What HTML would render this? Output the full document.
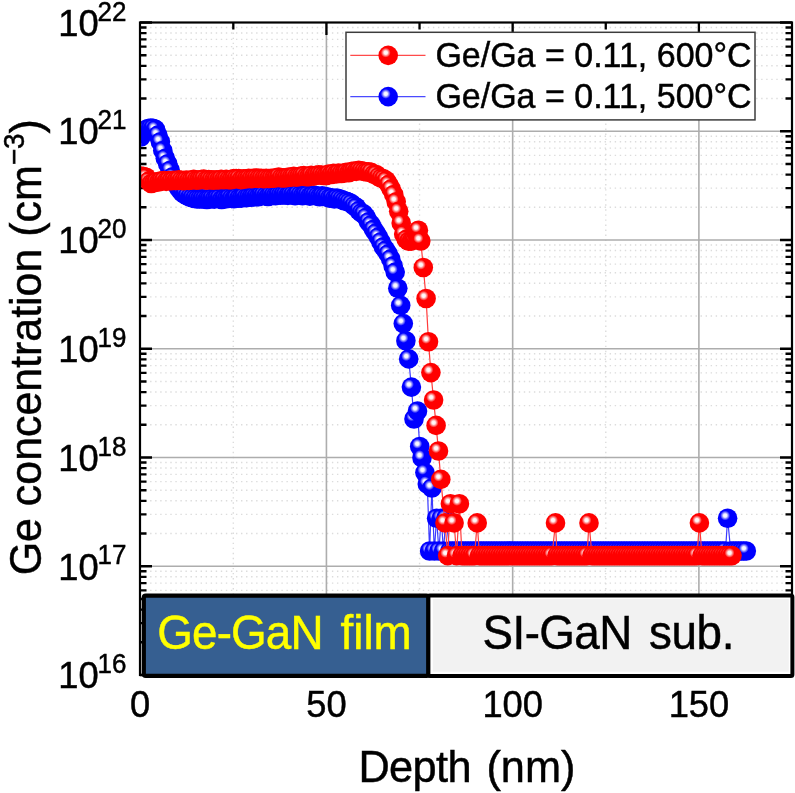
<!DOCTYPE html>
<html lang="en"><head><meta charset="utf-8"><title>Ge concentration depth profile</title>
<style>html,body{margin:0;padding:0;background:#fff}svg{display:block}text{stroke:#000;stroke-width:.45px;paint-order:stroke fill}text.y{stroke:#ff0}</style></head>
<body>
<svg width="795" height="793" viewBox="0 0 795 793" font-family="'Liberation Sans', sans-serif">
<defs>
<radialGradient id="gr" cx="0.375" cy="0.36" r="0.25" fx="0.375" fy="0.36">
<stop offset="0" stop-color="#ffffff"/><stop offset="0.35" stop-color="#fff0f0"/><stop offset="1" stop-color="#ff0000"/>
</radialGradient>
<radialGradient id="gb" cx="0.375" cy="0.36" r="0.25" fx="0.375" fy="0.36">
<stop offset="0" stop-color="#ffffff"/><stop offset="0.35" stop-color="#f0f0ff"/><stop offset="1" stop-color="#0000ff"/>
</radialGradient>
<circle id="r" r="9.8" fill="url(#gr)"/>
<circle id="b" r="9.8" fill="url(#gb)"/>
<clipPath id="cp"><rect x="141.1" y="22.5" width="651" height="652.5"/></clipPath>
</defs>
<rect width="795" height="793" fill="#ffffff"/>
<path d="M140.0 642.26H792.0M140.0 623.11H792.0M140.0 609.53H792.0M140.0 598.99H792.0M140.0 590.38H792.0M140.0 583.10H792.0M140.0 576.79H792.0M140.0 571.23H792.0M140.0 533.51H792.0M140.0 514.36H792.0M140.0 500.78H792.0M140.0 490.24H792.0M140.0 481.63H792.0M140.0 474.35H792.0M140.0 468.04H792.0M140.0 462.48H792.0M140.0 424.76H792.0M140.0 405.61H792.0M140.0 392.03H792.0M140.0 381.49H792.0M140.0 372.88H792.0M140.0 365.60H792.0M140.0 359.29H792.0M140.0 353.73H792.0M140.0 316.01H792.0M140.0 296.86H792.0M140.0 283.28H792.0M140.0 272.74H792.0M140.0 264.13H792.0M140.0 256.85H792.0M140.0 250.54H792.0M140.0 244.98H792.0M140.0 207.26H792.0M140.0 188.11H792.0M140.0 174.53H792.0M140.0 163.99H792.0M140.0 155.38H792.0M140.0 148.10H792.0M140.0 141.79H792.0M140.0 136.23H792.0M140.0 98.51H792.0M140.0 79.36H792.0M140.0 65.78H792.0M140.0 55.24H792.0M140.0 46.63H792.0M140.0 39.35H792.0M140.0 33.04H792.0M140.0 27.48H792.0M233.31 22.5V675.0M419.55 22.5V675.0M605.77 22.5V675.0" stroke="#dcdcdc" stroke-width="1.4" stroke-dasharray="1.4 3.65" fill="none"/>
<path d="M140.0 566.25H792.0M140.0 457.50H792.0M140.0 348.75H792.0M140.0 240.00H792.0M140.0 131.25H792.0M326.43 22.5V675.0M512.66 22.5V675.0M698.89 22.5V675.0" stroke="#adadad" stroke-width="1.6" fill="none"/>
<path d="M140.0 675.00h12M792.0 675.00h-12M140.0 642.26h6.5M792.0 642.26h-6.5M140.0 623.11h6.5M792.0 623.11h-6.5M140.0 609.53h6.5M792.0 609.53h-6.5M140.0 598.99h6.5M792.0 598.99h-6.5M140.0 590.38h6.5M792.0 590.38h-6.5M140.0 583.10h6.5M792.0 583.10h-6.5M140.0 576.79h6.5M792.0 576.79h-6.5M140.0 571.23h6.5M792.0 571.23h-6.5M140.0 566.25h12M792.0 566.25h-12M140.0 533.51h6.5M792.0 533.51h-6.5M140.0 514.36h6.5M792.0 514.36h-6.5M140.0 500.78h6.5M792.0 500.78h-6.5M140.0 490.24h6.5M792.0 490.24h-6.5M140.0 481.63h6.5M792.0 481.63h-6.5M140.0 474.35h6.5M792.0 474.35h-6.5M140.0 468.04h6.5M792.0 468.04h-6.5M140.0 462.48h6.5M792.0 462.48h-6.5M140.0 457.50h12M792.0 457.50h-12M140.0 424.76h6.5M792.0 424.76h-6.5M140.0 405.61h6.5M792.0 405.61h-6.5M140.0 392.03h6.5M792.0 392.03h-6.5M140.0 381.49h6.5M792.0 381.49h-6.5M140.0 372.88h6.5M792.0 372.88h-6.5M140.0 365.60h6.5M792.0 365.60h-6.5M140.0 359.29h6.5M792.0 359.29h-6.5M140.0 353.73h6.5M792.0 353.73h-6.5M140.0 348.75h12M792.0 348.75h-12M140.0 316.01h6.5M792.0 316.01h-6.5M140.0 296.86h6.5M792.0 296.86h-6.5M140.0 283.28h6.5M792.0 283.28h-6.5M140.0 272.74h6.5M792.0 272.74h-6.5M140.0 264.13h6.5M792.0 264.13h-6.5M140.0 256.85h6.5M792.0 256.85h-6.5M140.0 250.54h6.5M792.0 250.54h-6.5M140.0 244.98h6.5M792.0 244.98h-6.5M140.0 240.00h12M792.0 240.00h-12M140.0 207.26h6.5M792.0 207.26h-6.5M140.0 188.11h6.5M792.0 188.11h-6.5M140.0 174.53h6.5M792.0 174.53h-6.5M140.0 163.99h6.5M792.0 163.99h-6.5M140.0 155.38h6.5M792.0 155.38h-6.5M140.0 148.10h6.5M792.0 148.10h-6.5M140.0 141.79h6.5M792.0 141.79h-6.5M140.0 136.23h6.5M792.0 136.23h-6.5M140.0 131.25h12M792.0 131.25h-12M140.0 98.51h6.5M792.0 98.51h-6.5M140.0 79.36h6.5M792.0 79.36h-6.5M140.0 65.78h6.5M792.0 65.78h-6.5M140.0 55.24h6.5M792.0 55.24h-6.5M140.0 46.63h6.5M792.0 46.63h-6.5M140.0 39.35h6.5M792.0 39.35h-6.5M140.0 33.04h6.5M792.0 33.04h-6.5M140.0 27.48h6.5M792.0 27.48h-6.5M140.0 22.50h12M792.0 22.50h-12M326.43 22.5v12.5M512.66 22.5v12.5M698.89 22.5v12.5M233.31 22.5v7M419.55 22.5v7M605.77 22.5v7" stroke="#000" stroke-width="2.3" fill="none"/>
<g clip-path="url(#cp)">
<path d="M140.8 137.0L143.2 132.9L145.7 129.9L148.1 128.5L150.6 128.0L153.0 128.3L155.5 129.4L157.9 135.1L160.4 141.8L162.8 150.6L165.3 158.3L167.7 163.7L170.2 170.3L172.6 176.8L175.1 181.9L177.5 186.3L180.0 189.9L182.4 192.7L184.9 194.5L187.3 195.9L189.8 197.1L192.2 197.8L194.7 198.5L197.1 198.9L199.6 198.9L202.0 198.9L204.5 199.0L206.9 199.5L209.4 198.7L211.8 198.6L214.3 199.1L216.7 198.2L219.2 198.3L221.6 199.5L224.1 198.6L226.5 198.7L229.0 197.7L231.4 198.4L233.9 198.7L236.3 197.5L238.8 198.3L241.2 198.1L243.7 196.8L246.1 197.6L248.6 197.1L251.0 197.2L253.5 196.4L255.9 196.8L258.4 196.7L260.8 195.2L263.3 195.2L265.7 196.1L268.2 196.5L270.6 195.0L273.1 195.4L275.5 195.6L278.0 195.0L280.4 195.1L282.9 194.9L285.3 195.0L287.8 195.4L290.2 194.8L292.7 194.9L295.1 195.6L297.6 194.2L300.0 195.1L302.5 195.6L304.9 195.0L307.4 195.0L309.8 196.2L312.3 195.3L314.7 195.4L317.2 196.1L319.6 196.8L322.1 195.9L324.5 196.5L327.0 196.8L329.4 198.1L331.9 197.8L334.3 198.9L336.8 198.0L339.2 198.7L341.7 199.6L344.1 200.8L346.6 201.4L349.0 202.4L351.5 203.6L353.9 205.7L356.4 207.2L358.8 210.6L361.3 212.9L363.7 213.9L366.2 217.2L368.6 221.7L371.1 224.8L373.5 229.3L376.0 232.9L378.4 236.9L380.9 241.7L383.3 246.8L385.8 250.1L388.2 253.9L390.7 258.9L393.1 265.8L395.2 272.1L397.8 288.2L400.7 305.4L403.3 323.6L405.9 340.7L408.7 358.9L411.4 387.1L414.0 419.0L417.5 411.0L419.7 446.5L422.0 457.8L424.9 472.6L427.3 484.0L429.6 551.0L431.9 488.0L434.3 551.0L436.6 518.3L438.9 551.0L441.2 518.3L443.5 551.0L445.8 518.3L449.9 551.0L452.5 551.0L455.1 551.0L457.7 551.0L460.3 551.0L462.9 551.0L465.5 551.0L468.1 551.0L470.7 551.0L473.3 551.0L475.9 551.0L478.5 551.0L481.1 551.0L483.7 551.0L486.3 551.0L488.9 551.0L491.5 551.0L494.1 551.0L496.7 551.0L499.3 551.0L501.9 551.0L504.5 551.0L507.1 551.0L509.7 551.0L512.3 551.0L514.9 551.0L517.5 551.0L520.1 551.0L522.7 551.0L525.3 551.0L527.9 551.0L530.5 551.0L533.1 551.0L535.7 551.0L538.3 551.0L540.9 551.0L543.5 551.0L546.1 551.0L548.7 551.0L551.3 551.0L553.9 551.0L556.5 551.0L559.1 551.0L561.7 551.0L564.3 551.0L566.9 551.0L569.5 551.0L572.1 551.0L574.7 551.0L577.3 551.0L579.9 551.0L582.5 551.0L585.1 551.0L587.7 551.0L590.3 551.0L592.9 551.0L595.5 551.0L598.1 551.0L600.7 551.0L603.3 551.0L605.9 551.0L608.5 551.0L611.1 551.0L613.7 551.0L616.3 551.0L618.9 551.0L621.5 551.0L624.1 551.0L626.7 551.0L629.3 551.0L631.9 551.0L634.5 551.0L637.1 551.0L639.7 551.0L642.3 551.0L644.9 551.0L647.5 551.0L650.1 551.0L652.7 551.0L655.3 551.0L657.9 551.0L660.5 551.0L663.1 551.0L665.7 551.0L668.3 551.0L670.9 551.0L673.5 551.0L676.1 551.0L678.7 551.0L681.3 551.0L683.9 551.0L686.5 551.0L689.1 551.0L691.7 551.0L694.3 551.0L696.9 551.0L699.5 551.0L702.1 551.0L704.7 551.0L707.3 551.0L709.9 551.0L712.5 551.0L715.1 551.0L717.7 551.0L720.3 551.0L722.9 551.0L725.5 551.0L727.6 518.3L730.7 551.0L733.3 551.0L735.9 551.0L738.5 551.0L741.1 551.0L743.7 551.0L746.3 551.0" stroke="#3a3aff" stroke-width="1.2" fill="none" stroke-linejoin="round"/>
<g><use href="#b" x="140.8" y="137.0"/><use href="#b" x="143.2" y="132.9"/><use href="#b" x="145.7" y="129.9"/><use href="#b" x="148.1" y="128.5"/><use href="#b" x="150.6" y="128.0"/><use href="#b" x="153.0" y="128.3"/><use href="#b" x="155.5" y="129.4"/><use href="#b" x="157.9" y="135.1"/><use href="#b" x="160.4" y="141.8"/><use href="#b" x="162.8" y="150.6"/><use href="#b" x="165.3" y="158.3"/><use href="#b" x="167.7" y="163.7"/><use href="#b" x="170.2" y="170.3"/><use href="#b" x="172.6" y="176.8"/><use href="#b" x="175.1" y="181.9"/><use href="#b" x="177.5" y="186.3"/><use href="#b" x="180.0" y="189.9"/><use href="#b" x="182.4" y="192.7"/><use href="#b" x="184.9" y="194.5"/><use href="#b" x="187.3" y="195.9"/><use href="#b" x="189.8" y="197.1"/><use href="#b" x="192.2" y="197.8"/><use href="#b" x="194.7" y="198.5"/><use href="#b" x="197.1" y="198.9"/><use href="#b" x="199.6" y="198.9"/><use href="#b" x="202.0" y="198.9"/><use href="#b" x="204.5" y="199.0"/><use href="#b" x="206.9" y="199.5"/><use href="#b" x="209.4" y="198.7"/><use href="#b" x="211.8" y="198.6"/><use href="#b" x="214.3" y="199.1"/><use href="#b" x="216.7" y="198.2"/><use href="#b" x="219.2" y="198.3"/><use href="#b" x="221.6" y="199.5"/><use href="#b" x="224.1" y="198.6"/><use href="#b" x="226.5" y="198.7"/><use href="#b" x="229.0" y="197.7"/><use href="#b" x="231.4" y="198.4"/><use href="#b" x="233.9" y="198.7"/><use href="#b" x="236.3" y="197.5"/><use href="#b" x="238.8" y="198.3"/><use href="#b" x="241.2" y="198.1"/><use href="#b" x="243.7" y="196.8"/><use href="#b" x="246.1" y="197.6"/><use href="#b" x="248.6" y="197.1"/><use href="#b" x="251.0" y="197.2"/><use href="#b" x="253.5" y="196.4"/><use href="#b" x="255.9" y="196.8"/><use href="#b" x="258.4" y="196.7"/><use href="#b" x="260.8" y="195.2"/><use href="#b" x="263.3" y="195.2"/><use href="#b" x="265.7" y="196.1"/><use href="#b" x="268.2" y="196.5"/><use href="#b" x="270.6" y="195.0"/><use href="#b" x="273.1" y="195.4"/><use href="#b" x="275.5" y="195.6"/><use href="#b" x="278.0" y="195.0"/><use href="#b" x="280.4" y="195.1"/><use href="#b" x="282.9" y="194.9"/><use href="#b" x="285.3" y="195.0"/><use href="#b" x="287.8" y="195.4"/><use href="#b" x="290.2" y="194.8"/><use href="#b" x="292.7" y="194.9"/><use href="#b" x="295.1" y="195.6"/><use href="#b" x="297.6" y="194.2"/><use href="#b" x="300.0" y="195.1"/><use href="#b" x="302.5" y="195.6"/><use href="#b" x="304.9" y="195.0"/><use href="#b" x="307.4" y="195.0"/><use href="#b" x="309.8" y="196.2"/><use href="#b" x="312.3" y="195.3"/><use href="#b" x="314.7" y="195.4"/><use href="#b" x="317.2" y="196.1"/><use href="#b" x="319.6" y="196.8"/><use href="#b" x="322.1" y="195.9"/><use href="#b" x="324.5" y="196.5"/><use href="#b" x="327.0" y="196.8"/><use href="#b" x="329.4" y="198.1"/><use href="#b" x="331.9" y="197.8"/><use href="#b" x="334.3" y="198.9"/><use href="#b" x="336.8" y="198.0"/><use href="#b" x="339.2" y="198.7"/><use href="#b" x="341.7" y="199.6"/><use href="#b" x="344.1" y="200.8"/><use href="#b" x="346.6" y="201.4"/><use href="#b" x="349.0" y="202.4"/><use href="#b" x="351.5" y="203.6"/><use href="#b" x="353.9" y="205.7"/><use href="#b" x="356.4" y="207.2"/><use href="#b" x="358.8" y="210.6"/><use href="#b" x="361.3" y="212.9"/><use href="#b" x="363.7" y="213.9"/><use href="#b" x="366.2" y="217.2"/><use href="#b" x="368.6" y="221.7"/><use href="#b" x="371.1" y="224.8"/><use href="#b" x="373.5" y="229.3"/><use href="#b" x="376.0" y="232.9"/><use href="#b" x="378.4" y="236.9"/><use href="#b" x="380.9" y="241.7"/><use href="#b" x="383.3" y="246.8"/><use href="#b" x="385.8" y="250.1"/><use href="#b" x="388.2" y="253.9"/><use href="#b" x="390.7" y="258.9"/><use href="#b" x="393.1" y="265.8"/><use href="#b" x="395.2" y="272.1"/><use href="#b" x="397.8" y="288.2"/><use href="#b" x="400.7" y="305.4"/><use href="#b" x="403.3" y="323.6"/><use href="#b" x="405.9" y="340.7"/><use href="#b" x="408.7" y="358.9"/><use href="#b" x="411.4" y="387.1"/><use href="#b" x="414.0" y="419.0"/><use href="#b" x="417.5" y="411.0"/><use href="#b" x="419.7" y="446.5"/><use href="#b" x="422.0" y="457.8"/><use href="#b" x="424.9" y="472.6"/><use href="#b" x="427.3" y="484.0"/><use href="#b" x="429.6" y="551.0"/><use href="#b" x="431.9" y="488.0"/><use href="#b" x="434.3" y="551.0"/><use href="#b" x="436.6" y="518.3"/><use href="#b" x="438.9" y="551.0"/><use href="#b" x="441.2" y="518.3"/><use href="#b" x="443.5" y="551.0"/><use href="#b" x="445.8" y="518.3"/><use href="#b" x="449.9" y="551.0"/><use href="#b" x="452.5" y="551.0"/><use href="#b" x="455.1" y="551.0"/><use href="#b" x="457.7" y="551.0"/><use href="#b" x="460.3" y="551.0"/><use href="#b" x="462.9" y="551.0"/><use href="#b" x="465.5" y="551.0"/><use href="#b" x="468.1" y="551.0"/><use href="#b" x="470.7" y="551.0"/><use href="#b" x="473.3" y="551.0"/><use href="#b" x="475.9" y="551.0"/><use href="#b" x="478.5" y="551.0"/><use href="#b" x="481.1" y="551.0"/><use href="#b" x="483.7" y="551.0"/><use href="#b" x="486.3" y="551.0"/><use href="#b" x="488.9" y="551.0"/><use href="#b" x="491.5" y="551.0"/><use href="#b" x="494.1" y="551.0"/><use href="#b" x="496.7" y="551.0"/><use href="#b" x="499.3" y="551.0"/><use href="#b" x="501.9" y="551.0"/><use href="#b" x="504.5" y="551.0"/><use href="#b" x="507.1" y="551.0"/><use href="#b" x="509.7" y="551.0"/><use href="#b" x="512.3" y="551.0"/><use href="#b" x="514.9" y="551.0"/><use href="#b" x="517.5" y="551.0"/><use href="#b" x="520.1" y="551.0"/><use href="#b" x="522.7" y="551.0"/><use href="#b" x="525.3" y="551.0"/><use href="#b" x="527.9" y="551.0"/><use href="#b" x="530.5" y="551.0"/><use href="#b" x="533.1" y="551.0"/><use href="#b" x="535.7" y="551.0"/><use href="#b" x="538.3" y="551.0"/><use href="#b" x="540.9" y="551.0"/><use href="#b" x="543.5" y="551.0"/><use href="#b" x="546.1" y="551.0"/><use href="#b" x="548.7" y="551.0"/><use href="#b" x="551.3" y="551.0"/><use href="#b" x="553.9" y="551.0"/><use href="#b" x="556.5" y="551.0"/><use href="#b" x="559.1" y="551.0"/><use href="#b" x="561.7" y="551.0"/><use href="#b" x="564.3" y="551.0"/><use href="#b" x="566.9" y="551.0"/><use href="#b" x="569.5" y="551.0"/><use href="#b" x="572.1" y="551.0"/><use href="#b" x="574.7" y="551.0"/><use href="#b" x="577.3" y="551.0"/><use href="#b" x="579.9" y="551.0"/><use href="#b" x="582.5" y="551.0"/><use href="#b" x="585.1" y="551.0"/><use href="#b" x="587.7" y="551.0"/><use href="#b" x="590.3" y="551.0"/><use href="#b" x="592.9" y="551.0"/><use href="#b" x="595.5" y="551.0"/><use href="#b" x="598.1" y="551.0"/><use href="#b" x="600.7" y="551.0"/><use href="#b" x="603.3" y="551.0"/><use href="#b" x="605.9" y="551.0"/><use href="#b" x="608.5" y="551.0"/><use href="#b" x="611.1" y="551.0"/><use href="#b" x="613.7" y="551.0"/><use href="#b" x="616.3" y="551.0"/><use href="#b" x="618.9" y="551.0"/><use href="#b" x="621.5" y="551.0"/><use href="#b" x="624.1" y="551.0"/><use href="#b" x="626.7" y="551.0"/><use href="#b" x="629.3" y="551.0"/><use href="#b" x="631.9" y="551.0"/><use href="#b" x="634.5" y="551.0"/><use href="#b" x="637.1" y="551.0"/><use href="#b" x="639.7" y="551.0"/><use href="#b" x="642.3" y="551.0"/><use href="#b" x="644.9" y="551.0"/><use href="#b" x="647.5" y="551.0"/><use href="#b" x="650.1" y="551.0"/><use href="#b" x="652.7" y="551.0"/><use href="#b" x="655.3" y="551.0"/><use href="#b" x="657.9" y="551.0"/><use href="#b" x="660.5" y="551.0"/><use href="#b" x="663.1" y="551.0"/><use href="#b" x="665.7" y="551.0"/><use href="#b" x="668.3" y="551.0"/><use href="#b" x="670.9" y="551.0"/><use href="#b" x="673.5" y="551.0"/><use href="#b" x="676.1" y="551.0"/><use href="#b" x="678.7" y="551.0"/><use href="#b" x="681.3" y="551.0"/><use href="#b" x="683.9" y="551.0"/><use href="#b" x="686.5" y="551.0"/><use href="#b" x="689.1" y="551.0"/><use href="#b" x="691.7" y="551.0"/><use href="#b" x="694.3" y="551.0"/><use href="#b" x="696.9" y="551.0"/><use href="#b" x="699.5" y="551.0"/><use href="#b" x="702.1" y="551.0"/><use href="#b" x="704.7" y="551.0"/><use href="#b" x="707.3" y="551.0"/><use href="#b" x="709.9" y="551.0"/><use href="#b" x="712.5" y="551.0"/><use href="#b" x="715.1" y="551.0"/><use href="#b" x="717.7" y="551.0"/><use href="#b" x="720.3" y="551.0"/><use href="#b" x="722.9" y="551.0"/><use href="#b" x="725.5" y="551.0"/><use href="#b" x="727.6" y="518.3"/><use href="#b" x="730.7" y="551.0"/><use href="#b" x="733.3" y="551.0"/><use href="#b" x="735.9" y="551.0"/><use href="#b" x="738.5" y="551.0"/><use href="#b" x="741.1" y="551.0"/><use href="#b" x="743.7" y="551.0"/><use href="#b" x="746.3" y="551.0"/></g>
<path d="M141.2 176.0L143.7 176.6L146.2 177.3L148.7 181.1L151.2 183.5L153.7 182.7L156.2 181.8L158.7 182.0L161.2 180.7L163.7 180.5L166.2 181.4L168.7 180.5L171.2 180.8L173.7 180.3L176.2 180.5L178.7 179.7L181.2 180.4L183.7 180.6L186.2 180.1L188.7 180.4L191.2 180.2L193.7 179.3L196.2 180.2L198.7 180.0L201.2 179.5L203.7 179.1L206.2 180.2L208.7 179.6L211.2 179.9L213.7 180.1L216.2 179.8L218.7 180.0L221.2 179.2L223.7 179.7L226.2 179.2L228.7 179.8L231.2 179.7L233.7 178.6L236.2 178.6L238.7 178.6L241.2 179.6L243.7 178.8L246.2 178.9L248.7 178.4L251.2 178.6L253.7 178.3L256.2 178.1L258.7 178.4L261.2 178.3L263.7 178.6L266.2 178.2L268.7 178.5L271.2 178.3L273.7 178.3L276.2 177.8L278.7 177.0L281.2 177.9L283.7 177.9L286.2 177.7L288.7 177.1L291.2 177.2L293.7 176.4L296.2 177.1L298.7 176.6L301.2 176.1L303.7 175.6L306.2 176.6L308.7 176.6L311.2 175.2L313.7 176.1L316.2 175.4L318.7 174.9L321.2 175.0L323.7 175.5L326.2 175.5L328.7 174.0L331.2 174.5L333.7 173.3L336.2 174.0L338.7 173.1L341.2 173.5L343.7 173.3L346.2 172.4L348.7 172.8L351.2 171.6L353.7 171.0L356.2 171.4L358.7 170.4L361.2 170.8L363.7 171.4L366.2 172.0L368.7 171.8L371.2 172.4L373.7 174.4L376.2 174.5L378.7 176.7L381.2 178.1L383.7 178.9L386.2 180.5L388.7 184.4L391.2 188.9L393.7 194.5L396.2 201.8L398.7 211.2L401.2 223.0L403.7 234.1L406.2 239.4L408.7 241.3L411.2 241.1L413.7 238.4L416.2 233.6L418.4 230.3L420.8 241.0L423.3 267.5L426.1 298.5L428.5 341.7L430.9 372.6L433.6 400.0L436.1 425.4L438.5 451.0L440.8 479.4L445.0 522.9L447.7 555.6L450.4 503.7L454.1 522.9L456.6 555.6L459.4 503.7L462.0 555.6L464.5 555.6L467.0 555.6L469.5 555.6L472.0 555.6L474.5 555.6L477.2 522.9L479.5 555.6L482.0 555.6L484.5 555.6L487.0 555.6L489.5 555.6L492.0 555.6L494.5 555.6L497.0 555.6L499.5 555.6L502.0 555.6L504.5 555.6L507.0 555.6L509.5 555.6L512.0 555.6L514.5 555.6L517.0 555.6L519.5 555.6L522.0 555.6L524.5 555.6L527.0 555.6L529.5 555.6L532.0 555.6L534.5 555.6L537.0 555.6L539.5 555.6L542.0 555.6L544.5 555.6L547.0 555.6L549.5 555.6L552.0 555.6L555.5 522.9L557.0 555.6L559.5 555.6L562.0 555.6L564.5 555.6L567.0 555.6L569.5 555.6L572.0 555.6L574.5 555.6L577.0 555.6L579.5 555.6L582.0 555.6L584.5 555.6L587.0 555.6L589.0 522.9L592.0 555.6L594.5 555.6L597.0 555.6L599.5 555.6L602.0 555.6L604.5 555.6L607.0 555.6L609.5 555.6L612.0 555.6L614.5 555.6L617.0 555.6L619.5 555.6L622.0 555.6L624.5 555.6L627.0 555.6L629.5 555.6L632.0 555.6L634.5 555.6L637.0 555.6L639.5 555.6L642.0 555.6L644.5 555.6L647.0 555.6L649.5 555.6L652.0 555.6L654.5 555.6L657.0 555.6L659.5 555.6L662.0 555.6L664.5 555.6L667.0 555.6L669.5 555.6L672.0 555.6L674.5 555.6L677.0 555.6L679.5 555.6L682.0 555.6L684.5 555.6L687.0 555.6L689.5 555.6L692.0 555.6L694.5 555.6L697.0 555.6L699.4 522.9L702.0 555.6L704.5 555.6L707.0 555.6L709.5 555.6L712.0 555.6L714.5 555.6L717.0 555.6L719.5 555.6L722.0 555.6L724.5 555.6L727.0 555.6L729.5 555.6L732.0 555.6" stroke="#ff3a3a" stroke-width="1.2" fill="none" stroke-linejoin="round"/>
<g><use href="#r" x="141.2" y="176.0"/><use href="#r" x="143.7" y="176.6"/><use href="#r" x="146.2" y="177.3"/><use href="#r" x="148.7" y="181.1"/><use href="#r" x="151.2" y="183.5"/><use href="#r" x="153.7" y="182.7"/><use href="#r" x="156.2" y="181.8"/><use href="#r" x="158.7" y="182.0"/><use href="#r" x="161.2" y="180.7"/><use href="#r" x="163.7" y="180.5"/><use href="#r" x="166.2" y="181.4"/><use href="#r" x="168.7" y="180.5"/><use href="#r" x="171.2" y="180.8"/><use href="#r" x="173.7" y="180.3"/><use href="#r" x="176.2" y="180.5"/><use href="#r" x="178.7" y="179.7"/><use href="#r" x="181.2" y="180.4"/><use href="#r" x="183.7" y="180.6"/><use href="#r" x="186.2" y="180.1"/><use href="#r" x="188.7" y="180.4"/><use href="#r" x="191.2" y="180.2"/><use href="#r" x="193.7" y="179.3"/><use href="#r" x="196.2" y="180.2"/><use href="#r" x="198.7" y="180.0"/><use href="#r" x="201.2" y="179.5"/><use href="#r" x="203.7" y="179.1"/><use href="#r" x="206.2" y="180.2"/><use href="#r" x="208.7" y="179.6"/><use href="#r" x="211.2" y="179.9"/><use href="#r" x="213.7" y="180.1"/><use href="#r" x="216.2" y="179.8"/><use href="#r" x="218.7" y="180.0"/><use href="#r" x="221.2" y="179.2"/><use href="#r" x="223.7" y="179.7"/><use href="#r" x="226.2" y="179.2"/><use href="#r" x="228.7" y="179.8"/><use href="#r" x="231.2" y="179.7"/><use href="#r" x="233.7" y="178.6"/><use href="#r" x="236.2" y="178.6"/><use href="#r" x="238.7" y="178.6"/><use href="#r" x="241.2" y="179.6"/><use href="#r" x="243.7" y="178.8"/><use href="#r" x="246.2" y="178.9"/><use href="#r" x="248.7" y="178.4"/><use href="#r" x="251.2" y="178.6"/><use href="#r" x="253.7" y="178.3"/><use href="#r" x="256.2" y="178.1"/><use href="#r" x="258.7" y="178.4"/><use href="#r" x="261.2" y="178.3"/><use href="#r" x="263.7" y="178.6"/><use href="#r" x="266.2" y="178.2"/><use href="#r" x="268.7" y="178.5"/><use href="#r" x="271.2" y="178.3"/><use href="#r" x="273.7" y="178.3"/><use href="#r" x="276.2" y="177.8"/><use href="#r" x="278.7" y="177.0"/><use href="#r" x="281.2" y="177.9"/><use href="#r" x="283.7" y="177.9"/><use href="#r" x="286.2" y="177.7"/><use href="#r" x="288.7" y="177.1"/><use href="#r" x="291.2" y="177.2"/><use href="#r" x="293.7" y="176.4"/><use href="#r" x="296.2" y="177.1"/><use href="#r" x="298.7" y="176.6"/><use href="#r" x="301.2" y="176.1"/><use href="#r" x="303.7" y="175.6"/><use href="#r" x="306.2" y="176.6"/><use href="#r" x="308.7" y="176.6"/><use href="#r" x="311.2" y="175.2"/><use href="#r" x="313.7" y="176.1"/><use href="#r" x="316.2" y="175.4"/><use href="#r" x="318.7" y="174.9"/><use href="#r" x="321.2" y="175.0"/><use href="#r" x="323.7" y="175.5"/><use href="#r" x="326.2" y="175.5"/><use href="#r" x="328.7" y="174.0"/><use href="#r" x="331.2" y="174.5"/><use href="#r" x="333.7" y="173.3"/><use href="#r" x="336.2" y="174.0"/><use href="#r" x="338.7" y="173.1"/><use href="#r" x="341.2" y="173.5"/><use href="#r" x="343.7" y="173.3"/><use href="#r" x="346.2" y="172.4"/><use href="#r" x="348.7" y="172.8"/><use href="#r" x="351.2" y="171.6"/><use href="#r" x="353.7" y="171.0"/><use href="#r" x="356.2" y="171.4"/><use href="#r" x="358.7" y="170.4"/><use href="#r" x="361.2" y="170.8"/><use href="#r" x="363.7" y="171.4"/><use href="#r" x="366.2" y="172.0"/><use href="#r" x="368.7" y="171.8"/><use href="#r" x="371.2" y="172.4"/><use href="#r" x="373.7" y="174.4"/><use href="#r" x="376.2" y="174.5"/><use href="#r" x="378.7" y="176.7"/><use href="#r" x="381.2" y="178.1"/><use href="#r" x="383.7" y="178.9"/><use href="#r" x="386.2" y="180.5"/><use href="#r" x="388.7" y="184.4"/><use href="#r" x="391.2" y="188.9"/><use href="#r" x="393.7" y="194.5"/><use href="#r" x="396.2" y="201.8"/><use href="#r" x="398.7" y="211.2"/><use href="#r" x="401.2" y="223.0"/><use href="#r" x="403.7" y="234.1"/><use href="#r" x="406.2" y="239.4"/><use href="#r" x="408.7" y="241.3"/><use href="#r" x="411.2" y="241.1"/><use href="#r" x="413.7" y="238.4"/><use href="#r" x="416.2" y="233.6"/><use href="#r" x="418.4" y="230.3"/><use href="#r" x="420.8" y="241.0"/><use href="#r" x="423.3" y="267.5"/><use href="#r" x="426.1" y="298.5"/><use href="#r" x="428.5" y="341.7"/><use href="#r" x="430.9" y="372.6"/><use href="#r" x="433.6" y="400.0"/><use href="#r" x="436.1" y="425.4"/><use href="#r" x="438.5" y="451.0"/><use href="#r" x="440.8" y="479.4"/><use href="#r" x="445.0" y="522.9"/><use href="#r" x="447.7" y="555.6"/><use href="#r" x="450.4" y="503.7"/><use href="#r" x="454.1" y="522.9"/><use href="#r" x="456.6" y="555.6"/><use href="#r" x="459.4" y="503.7"/><use href="#r" x="462.0" y="555.6"/><use href="#r" x="464.5" y="555.6"/><use href="#r" x="467.0" y="555.6"/><use href="#r" x="469.5" y="555.6"/><use href="#r" x="472.0" y="555.6"/><use href="#r" x="474.5" y="555.6"/><use href="#r" x="477.2" y="522.9"/><use href="#r" x="479.5" y="555.6"/><use href="#r" x="482.0" y="555.6"/><use href="#r" x="484.5" y="555.6"/><use href="#r" x="487.0" y="555.6"/><use href="#r" x="489.5" y="555.6"/><use href="#r" x="492.0" y="555.6"/><use href="#r" x="494.5" y="555.6"/><use href="#r" x="497.0" y="555.6"/><use href="#r" x="499.5" y="555.6"/><use href="#r" x="502.0" y="555.6"/><use href="#r" x="504.5" y="555.6"/><use href="#r" x="507.0" y="555.6"/><use href="#r" x="509.5" y="555.6"/><use href="#r" x="512.0" y="555.6"/><use href="#r" x="514.5" y="555.6"/><use href="#r" x="517.0" y="555.6"/><use href="#r" x="519.5" y="555.6"/><use href="#r" x="522.0" y="555.6"/><use href="#r" x="524.5" y="555.6"/><use href="#r" x="527.0" y="555.6"/><use href="#r" x="529.5" y="555.6"/><use href="#r" x="532.0" y="555.6"/><use href="#r" x="534.5" y="555.6"/><use href="#r" x="537.0" y="555.6"/><use href="#r" x="539.5" y="555.6"/><use href="#r" x="542.0" y="555.6"/><use href="#r" x="544.5" y="555.6"/><use href="#r" x="547.0" y="555.6"/><use href="#r" x="549.5" y="555.6"/><use href="#r" x="552.0" y="555.6"/><use href="#r" x="555.5" y="522.9"/><use href="#r" x="557.0" y="555.6"/><use href="#r" x="559.5" y="555.6"/><use href="#r" x="562.0" y="555.6"/><use href="#r" x="564.5" y="555.6"/><use href="#r" x="567.0" y="555.6"/><use href="#r" x="569.5" y="555.6"/><use href="#r" x="572.0" y="555.6"/><use href="#r" x="574.5" y="555.6"/><use href="#r" x="577.0" y="555.6"/><use href="#r" x="579.5" y="555.6"/><use href="#r" x="582.0" y="555.6"/><use href="#r" x="584.5" y="555.6"/><use href="#r" x="587.0" y="555.6"/><use href="#r" x="589.0" y="522.9"/><use href="#r" x="592.0" y="555.6"/><use href="#r" x="594.5" y="555.6"/><use href="#r" x="597.0" y="555.6"/><use href="#r" x="599.5" y="555.6"/><use href="#r" x="602.0" y="555.6"/><use href="#r" x="604.5" y="555.6"/><use href="#r" x="607.0" y="555.6"/><use href="#r" x="609.5" y="555.6"/><use href="#r" x="612.0" y="555.6"/><use href="#r" x="614.5" y="555.6"/><use href="#r" x="617.0" y="555.6"/><use href="#r" x="619.5" y="555.6"/><use href="#r" x="622.0" y="555.6"/><use href="#r" x="624.5" y="555.6"/><use href="#r" x="627.0" y="555.6"/><use href="#r" x="629.5" y="555.6"/><use href="#r" x="632.0" y="555.6"/><use href="#r" x="634.5" y="555.6"/><use href="#r" x="637.0" y="555.6"/><use href="#r" x="639.5" y="555.6"/><use href="#r" x="642.0" y="555.6"/><use href="#r" x="644.5" y="555.6"/><use href="#r" x="647.0" y="555.6"/><use href="#r" x="649.5" y="555.6"/><use href="#r" x="652.0" y="555.6"/><use href="#r" x="654.5" y="555.6"/><use href="#r" x="657.0" y="555.6"/><use href="#r" x="659.5" y="555.6"/><use href="#r" x="662.0" y="555.6"/><use href="#r" x="664.5" y="555.6"/><use href="#r" x="667.0" y="555.6"/><use href="#r" x="669.5" y="555.6"/><use href="#r" x="672.0" y="555.6"/><use href="#r" x="674.5" y="555.6"/><use href="#r" x="677.0" y="555.6"/><use href="#r" x="679.5" y="555.6"/><use href="#r" x="682.0" y="555.6"/><use href="#r" x="684.5" y="555.6"/><use href="#r" x="687.0" y="555.6"/><use href="#r" x="689.5" y="555.6"/><use href="#r" x="692.0" y="555.6"/><use href="#r" x="694.5" y="555.6"/><use href="#r" x="697.0" y="555.6"/><use href="#r" x="699.4" y="522.9"/><use href="#r" x="702.0" y="555.6"/><use href="#r" x="704.5" y="555.6"/><use href="#r" x="707.0" y="555.6"/><use href="#r" x="709.5" y="555.6"/><use href="#r" x="712.0" y="555.6"/><use href="#r" x="714.5" y="555.6"/><use href="#r" x="717.0" y="555.6"/><use href="#r" x="719.5" y="555.6"/><use href="#r" x="722.0" y="555.6"/><use href="#r" x="724.5" y="555.6"/><use href="#r" x="727.0" y="555.6"/><use href="#r" x="729.5" y="555.6"/><use href="#r" x="732.0" y="555.6"/></g>
</g>
<rect x="140.0" y="22.5" width="652.0" height="652.5" fill="none" stroke="#000" stroke-width="2.2"/>
<rect x="346" y="32.3" width="409" height="87.6" fill="#fff" stroke="#3c3c3c" stroke-width="1.5"/>
<path d="M350.3 55.3H425.5" stroke="#ff4a4a" stroke-width="1.3"/>
<path d="M350.3 96.6H425.5" stroke="#4a4aff" stroke-width="1.3"/>
<use href="#r" x="388.2" y="55.4"/><use href="#b" x="388.2" y="96.6"/>
<text transform="translate(435.4 66.9) scale(1 1.04)" font-size="34" fill="#000">Ge/Ga = 0.11, 600°C</text>
<text transform="translate(435.4 107.7) scale(1 1.04)" font-size="34" fill="#000">Ge/Ga = 0.11, 500°C</text>
<rect x="143.8" y="595.6" width="284.6" height="80.3" rx="2" fill="#365f91" stroke="#000" stroke-width="4.2"/>
<rect x="428.4" y="595.6" width="364.0" height="80.3" rx="1.5" fill="#fff" stroke="#000" stroke-width="4"/>
<rect x="432.8" y="599" width="356" height="72.7" fill="#f2f2f2"/>
<text transform="translate(157.3 649.2) scale(1 1.04)" font-size="45.8" fill="#ffff00" class="y"><tspan letter-spacing="-0.87">Ge-GaN</tspan><tspan dx="5.2"> film</tspan></text>
<text transform="translate(482.6 648.6) scale(1 1.04)" font-size="45.8" fill="#000"><tspan letter-spacing="-0.6">SI-GaN</tspan><tspan dx="5" letter-spacing="-0.4"> sub.</tspan></text>
<text transform="translate(58.2 688.2) scale(1 1.04)" font-size="36.3" fill="#000">10<tspan font-size="26" dx="-1" dy="-14.6">16</tspan></text>
<text transform="translate(58.2 579.5) scale(1 1.04)" font-size="36.3" fill="#000">10<tspan font-size="26" dx="-1" dy="-14.6">17</tspan></text>
<text transform="translate(58.2 470.7) scale(1 1.04)" font-size="36.3" fill="#000">10<tspan font-size="26" dx="-1" dy="-14.6">18</tspan></text>
<text transform="translate(58.2 361.9) scale(1 1.04)" font-size="36.3" fill="#000">10<tspan font-size="26" dx="-1" dy="-14.6">19</tspan></text>
<text transform="translate(58.2 253.2) scale(1 1.04)" font-size="36.3" fill="#000">10<tspan font-size="26" dx="-1" dy="-14.6">20</tspan></text>
<text transform="translate(58.2 144.4) scale(1 1.04)" font-size="36.3" fill="#000">10<tspan font-size="26" dx="-1" dy="-14.6">21</tspan></text>
<text transform="translate(58.2 35.7) scale(1 1.04)" font-size="36.3" fill="#000">10<tspan font-size="26" dx="-1" dy="-14.6">22</tspan></text>
<text transform="translate(140.2 716.6) scale(1 1.04)" font-size="36.3" text-anchor="middle" fill="#000">0</text>
<text transform="translate(326.4 716.6) scale(1 1.04)" font-size="36.3" text-anchor="middle" fill="#000">50</text>
<text transform="translate(512.7 716.6) scale(1 1.04)" font-size="36.3" text-anchor="middle" fill="#000">100</text>
<text transform="translate(698.9 716.6) scale(1 1.04)" font-size="36.3" text-anchor="middle" fill="#000">150</text>
<text transform="translate(358.4 781.7) scale(1 1.04)" font-size="43.3" fill="#000"><tspan letter-spacing="-0.6">Depth</tspan><tspan dx="3.5"> (nm)</tspan></text>
<text transform="translate(41.4 347.2) rotate(-90) scale(1 1.04)" font-size="42.9" text-anchor="middle" fill="#000">Ge concentration (cm<tspan font-size="28" dy="-17.2">−3</tspan><tspan dy="17.2">)</tspan></text>
</svg>
</body></html>
